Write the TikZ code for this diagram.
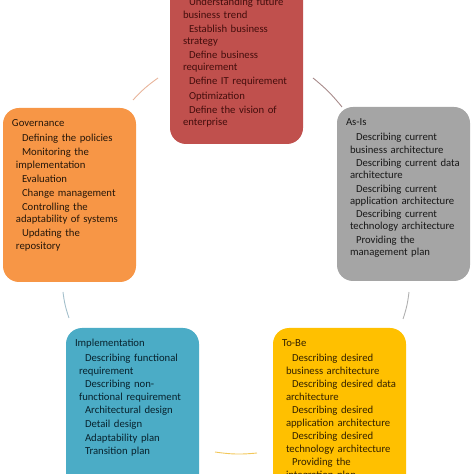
\documentclass[tikz,border=0pt]{standalone}
\usepackage{fontspec}
\setmainfont{Carlito}

\definecolor{redbox}{HTML}{C0504D}
\definecolor{orangebox}{HTML}{F79646}
\definecolor{graybox}{HTML}{A5A5A5}
\definecolor{bluebox}{HTML}{4BACC6}
\definecolor{yellowbox}{HTML}{FFC000}
\definecolor{redtext}{HTML}{440E0D}
\definecolor{orangetext}{HTML}{26170A}
\definecolor{graytext}{HTML}{181818}
\definecolor{bluetext}{HTML}{08222D}
\definecolor{yellowtext}{HTML}{332100}
\definecolor{lnGovTop}{HTML}{E8B49A}
\definecolor{lnTopAsis}{HTML}{A88B8B}
\definecolor{lnAsisTobe}{HTML}{B0B0B0}
\definecolor{lnTobeImpl}{HTML}{F2C75A}
\definecolor{lnImplGov}{HTML}{A3BFCB}

\newcommand{\firstln}{\hspace*{10pt}}
\newcommand{\nextln}{\hspace*{4pt}}

\begin{document}
\begin{tikzpicture}[x=1pt,y=1pt,
  box/.style={rounded corners=16pt,minimum width=133pt,minimum height=174pt,inner sep=0pt},
  txt/.style={anchor=base west,text width=124pt,align=left,inner sep=0pt,
    font=\fontsize{10.7}{12.3}\selectfont},
  link/.style={line width=0.9pt}]
\useasboundingbox (0,0) rectangle (474,474);
\clip (0,0) rectangle (474,474);

% boxes
\node[box,fill=redbox] (top) at (236.5,417) {};
\node[box,fill=orangebox] (gov) at (69.5,279) {};
\node[box,fill=graybox] (asis) at (403.5,280) {};
\node[box,fill=bluebox] (impl) at (132.5,59) {};
\node[box,fill=yellowbox] (tobe) at (339.5,59) {};

% texts
\node[txt,text=redtext] (top-txt) at ([shift={(9,-36)}]top.north west) {%
\firstln Understanding future\\
\nextln business trend\\[1.8pt]
\firstln Establish business\\
\nextln strategy\\[1.8pt]
\firstln Define business\\
\nextln requirement\\[1.8pt]
\firstln Define IT requirement\\[1.8pt]
\firstln Optimization\\[1.8pt]
\firstln Define the vision of\\
\nextln enterprise};

\node[txt,text=orangetext] (gov-txt) at ([shift={(9,-19)}]gov.north west) {%
Governance\\[2.8pt]
\firstln Defining the policies\\[1.8pt]
\firstln Monitoring the\\
\nextln implementation\\[1.8pt]
\firstln Evaluation\\[1.8pt]
\firstln Change management\\[1.8pt]
\firstln Controlling the\\
\nextln adaptability of systems\\[1.8pt]
\firstln Updating the\\
\nextln repository};

\node[txt,text=graytext] (asis-txt) at ([shift={(9,-19)}]asis.north west) {%
As-Is\\[2.8pt]
\firstln Describing current\\
\nextln business architecture\\[1pt]
\firstln Describing current data\\
\nextln architecture\\[1pt]
\firstln Describing current\\
\nextln application architecture\\[1pt]
\firstln Describing current\\
\nextln technology architecture\\[1pt]
\firstln Providing the\\
\nextln management plan};

\node[txt,text=bluetext] (impl-txt) at ([shift={(9,-19)}]impl.north west) {%
Implementation\\[2.8pt]
\firstln Describing functional\\
\nextln requirement\\[1.4pt]
\firstln Describing non-\\
\nextln functional requirement\\[1.4pt]
\firstln Architectural design\\[1.4pt]
\firstln Detail design\\[1.4pt]
\firstln Adaptability plan\\[1.4pt]
\firstln Transition plan};

\node[txt,text=yellowtext] (tobe-txt) at ([shift={(9,-19)}]tobe.north west) {%
To-Be\\[2.8pt]
\firstln Describing desired\\
\nextln business architecture\\[1.4pt]
\firstln Describing desired data\\
\nextln architecture\\[1.4pt]
\firstln Describing desired\\
\nextln application architecture\\[1.4pt]
\firstln Describing desired\\
\nextln technology architecture\\[1.4pt]
\firstln Providing the\\
\nextln integration plan};

% cycle arcs
\coordinate (g2t-s) at (133,374);
\coordinate (g2t-e) at (158,396);
\coordinate (t2a-s) at (313,396);
\coordinate (t2a-e) at (342,367);
\coordinate (a2t-s) at (409,182);
\coordinate (a2t-e) at (403,155);
\coordinate (t2i-s) at (257,21);
\coordinate (t2i-e) at (215,22);
\coordinate (i2g-s) at (69,156);
\coordinate (i2g-e) at (63,182);

\draw[link,lnGovTop] (g2t-s) to[bend left=6] (g2t-e);
\draw[link,lnTopAsis] (t2a-s) to[bend left=6] (t2a-e);
\draw[link,lnAsisTobe] (a2t-s) to[bend left=6] (a2t-e);
\draw[link,lnTobeImpl] (t2i-s) to[bend left=7] (t2i-e);
\draw[link,lnImplGov] (i2g-s) to[bend left=6] (i2g-e);
\end{tikzpicture}
\end{document}
